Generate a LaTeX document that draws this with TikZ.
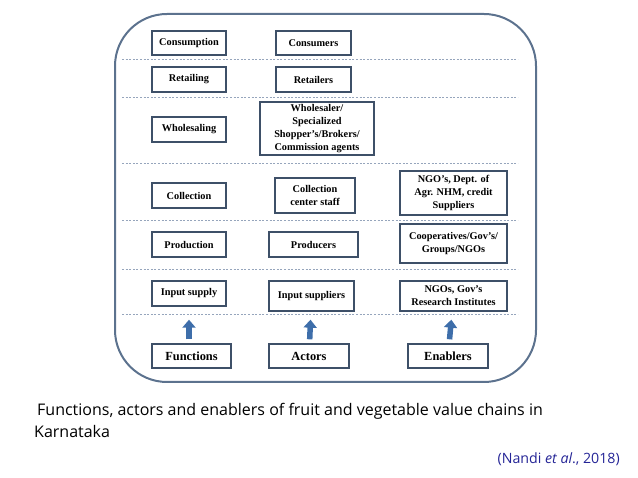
\documentclass[tikz,border=0pt]{standalone}
\usepackage{fontspec}
\setmainfont{Liberation Serif}
\newfontfamily\capfont{Open Sans}
\usetikzlibrary{arrows.meta}

\definecolor{frameblue}{RGB}{92,114,142}
\definecolor{boxline}{RGB}{62,80,104}
\definecolor{dashblue}{RGB}{150,165,188}
\definecolor{arrowblue}{RGB}{62,110,170}
\definecolor{citeblue}{RGB}{36,36,150}

\begin{document}
\begin{tikzpicture}[x=1pt, y=-1pt,
    every node/.style={font=\fontsize{10.3}{13.2}\selectfont\bfseries},
    stagebox/.style={draw=boxline, line width=1.4pt, fill=white, align=center, inner sep=1pt},
    headbox/.style={stagebox, minimum width=80pt, minimum height=24pt, font=\fontsize{12.4}{14}\selectfont\bfseries},
    rowline/.style={dash pattern=on 2pt off 1.6pt, dashblue, line width=0.9pt},
    uparrow/.style={line width=5.5pt, arrowblue, -{Triangle[width=13pt,length=8pt]}}]

\useasboundingbox (0,0) rectangle (638,478);

% --- OUTER FRAME ---
\draw[frameblue, line width=2pt, rounded corners=52pt] (115,14) rectangle (536,382);

% --- ROW SEPARATORS ---
\foreach \y in {59,97,163,220,269,314}
    \draw[rowline] (122,\y) -- (518,\y);

% --- FUNCTIONS (left column) ---
\node[stagebox, minimum width=74pt, minimum height=24pt] (con) at (189,43) {Consumption};
\node[stagebox, minimum width=74pt, minimum height=25pt] (ret) at (189,79.5) {Retailing};
\node[stagebox, minimum width=74pt, minimum height=25pt] (whl) at (189,129.5) {Wholesaling};
\node[stagebox, minimum width=74pt, minimum height=25pt] (col) at (189,195.5) {Collection};
\node[stagebox, minimum width=74pt, minimum height=25pt] (pro) at (189,244.5) {Production};
\node[stagebox, minimum width=74pt, minimum height=25pt] (inp) at (189,293.5) {Input supply};

% --- ACTORS (middle column) ---
\node[stagebox, minimum width=75pt, minimum height=24pt] (conA) at (313.5,43) {Consumers};
\node[stagebox, minimum width=75pt, minimum height=25pt] (retA) at (313.5,79.5) {Retailers};
\node[stagebox, minimum width=114pt, minimum height=53pt] (whlA) at (317,128.5) {Wholesaler/\\Specialized\\Shopper's/Brokers/\\Commission agents};
\node[stagebox, minimum width=80pt, minimum height=35pt] (colA) at (315,195.5) {Collection\\center staff};
\node[stagebox, minimum width=89pt, minimum height=25pt] (proA) at (313.5,244.5) {Producers};
\node[stagebox, minimum width=85pt, minimum height=30pt] (inpA) at (311.5,296) {Input suppliers};

% --- ENABLERS (right column) ---
\node[stagebox, minimum width=107pt, minimum height=44pt] (colE) at (453.5,193) {NGO's, Dept. of\\Agr. NHM, credit\\Suppliers};
\node[stagebox, minimum width=107pt, minimum height=39pt] (proE) at (453.5,243.5) {Cooperatives/Gov's/\\Groups/NGOs};
\node[stagebox, minimum width=107pt, minimum height=30pt] (inpE) at (453.5,296) {NGOs, Gov's\\Research Institutes};

% --- BOTTOM HEADERS ---
\node[headbox, minimum width=79pt] (fun) at (191.5,356) {Functions};
\node[headbox] (act) at (309,356) {Actors};
\node[headbox] (ena) at (448,356) {Enablers};

\draw[uparrow, shorten <=4pt, shorten >=13pt] (fun.north -| inp.south) -- (inp.south);
\draw[uparrow, shorten <=4pt, shorten >=8pt] (act) -- (inpA);
\draw[uparrow, shorten <=4pt, shorten >=8pt] (ena) -- (inpE);

% --- CAPTION ---
\node[font=\capfont\fontsize{16}{22}\selectfont, align=left, anchor=north west, inner sep=0pt] (cap) at (34,403)
    {\hspace{3pt}Functions, actors and enablers of fruit and vegetable value chains in\\Karnataka};
\node[font=\capfont\fontsize{14.2}{17}\selectfont, text=citeblue, anchor=east, inner sep=0pt] (cite) at (620,459)
    {(Nandi \textit{et al}., 2018)};

\end{tikzpicture}
\end{document}
